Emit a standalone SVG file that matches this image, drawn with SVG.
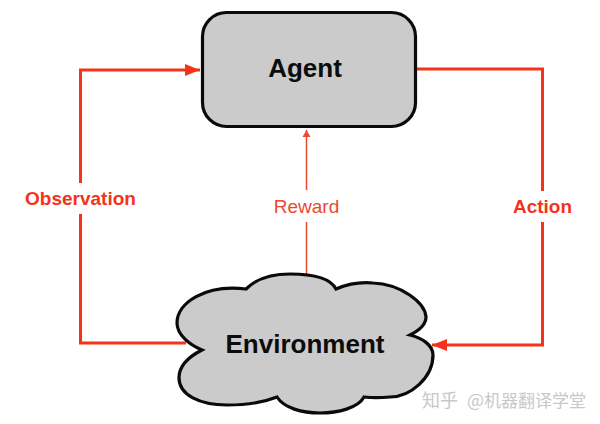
<svg xmlns="http://www.w3.org/2000/svg" width="600" height="424" viewBox="0 0 600 424">
<style>
.conn{fill:none;stroke:#f5331b;stroke-width:3}
.thin{fill:none;stroke:#ea4a30;stroke-width:1.5}
.shape{fill:#cbcbcb;stroke:#0a0a0a;stroke-width:3.2}
.nodet{font-family:"Liberation Sans",Arial,sans-serif;font-weight:700;font-size:26px;fill:#0c0c0c;text-anchor:middle}
.lab{font-family:"Liberation Sans",Arial,sans-serif;font-weight:700;font-size:19px;fill:#f5331b;text-anchor:middle}
.wm{font-family:"Noto Sans CJK SC","Liberation Sans",sans-serif;font-size:18px;fill:#c8c8c8}
</style>
<defs>
<marker id="big" markerUnits="userSpaceOnUse" markerWidth="16" markerHeight="14" refX="15" refY="7" orient="auto"><path d="M0 1L15 7L0 13Z" fill="#f5331b"/></marker>
<marker id="small" markerUnits="userSpaceOnUse" markerWidth="8" markerHeight="10" refX="7" refY="5" orient="auto"><path d="M0 1L7 5L0 9Z" fill="#ea4a30"/></marker>
</defs>
<rect width="600" height="424" fill="#fff"/>
<g id="connectors">
<path class="conn" d="M186 343H80.500V214"/>
<path class="conn" marker-end="url(#big)" d="M80.500 183V70H200"/>
<path class="conn" d="M416 69H542.500V191"/>
<path class="conn" marker-end="url(#big)" d="M542.500 222V345H432"/>
<path class="thin" d="M306.500 275V222"/>
<path class="thin" marker-end="url(#small)" d="M306.500 190V130"/>
</g>
<g id="agent">
<rect class="shape" x="202.500" y="12.500" width="213" height="114" rx="24"/>
<text class="nodet" x="305" y="76.500">Agent</text>
</g>
<g id="environment">
<path class="shape" d="M202 350C190 345 177 335 177 323C177 303 205 284 246 289C256 279 272 274 290 274C310 274 330 277 336 289C350 283 362 282 373 283C400 284 425 302 426 317C426 325 418 331 410 335C422 338 433 345 433 355C433 378 410 397 390 397C380 398 372 398 364 397C358 408 338 413 320 413C302 413 284 408 277 397C262 403 245 405 227 405C200 405 179 395 179 378C179 365 190 356 202 350Z"/>
<text class="nodet" x="305" y="353">Environment</text>
</g>
<g id="labels">
<text class="lab" x="80.500" y="204.500">Observation</text>
<text class="lab" x="542.500" y="213">Action</text>
<text class="lab" x="306.500" y="212.500" style="font-weight:400;fill:#ea4a30">Reward</text>
</g>
<text class="wm" x="422" y="407">知乎 <tspan x="467">@</tspan><tspan x="484" font-size="17">机器翻译学堂</tspan></text>
</svg>
